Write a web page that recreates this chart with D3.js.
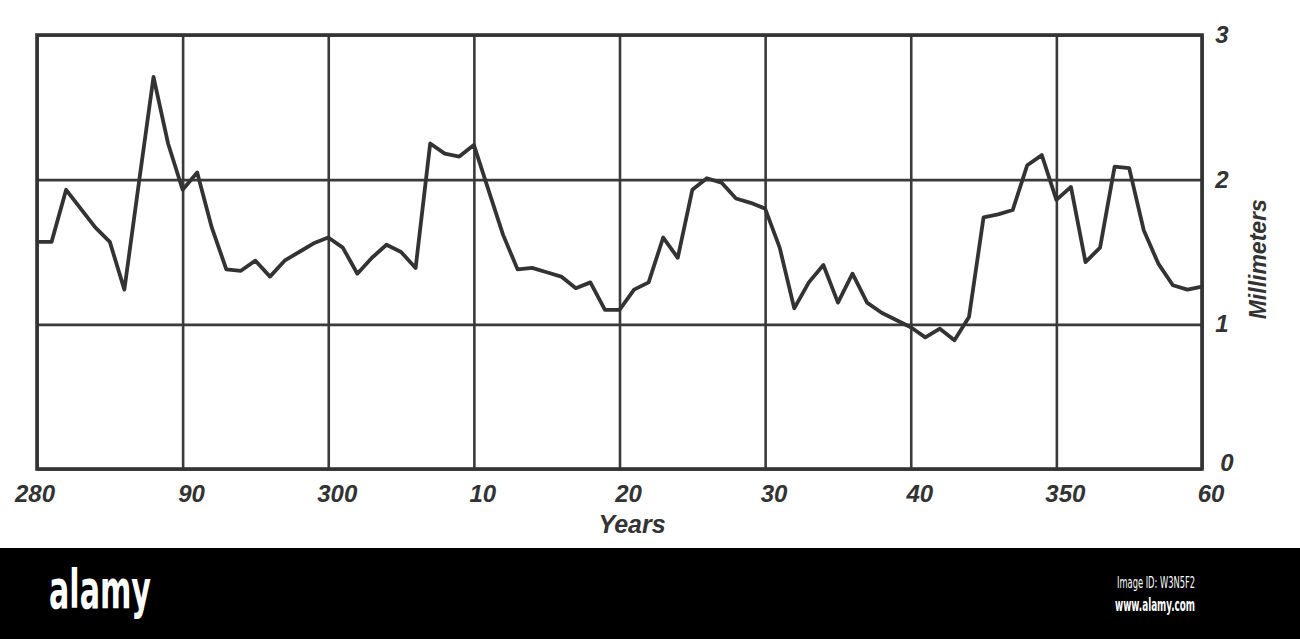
<!DOCTYPE html>
<html>
<head>
<meta charset="utf-8">
<script src="https://cdn.jsdelivr.net/npm/d3@7"></script>
<style>
  body { margin: 0; background: #fff; }
  .lbl { font-family: "Liberation Sans", Arial, sans-serif; font-weight: bold; font-style: italic; fill: #333; }
</style>
</head>
<body>
<div id="chart"></div>
<script>
// Data
const years = [280, 281, 282, 283, 284, 285, 286, 287, 288, 289,
    290, 291, 292, 293, 294, 295, 296, 297, 298, 299,
    300, 301, 302, 303, 304, 305, 306, 307, 308, 309,
    310, 311, 312, 313, 314, 315, 316, 317, 318, 319,
    320, 321, 322, 323, 324, 325, 326, 327, 328, 329,
    330, 331, 332, 333, 334, 335, 336, 337, 338, 339,
    340, 341, 342, 343, 344, 345, 346, 347, 348, 349,
    350, 351, 352, 353, 354, 355, 356, 357, 358, 359, 360];
const thickness = [1.57, 1.57, 1.93, 1.80, 1.67, 1.57, 1.24, 1.98, 2.71, 2.25,
    1.93, 2.05, 1.67, 1.38, 1.37, 1.44, 1.33, 1.44, 1.50, 1.56,
    1.60, 1.53, 1.35, 1.46, 1.55, 1.50, 1.39, 2.25, 2.18, 2.16,
    2.24, 1.93, 1.62, 1.38, 1.39, 1.36, 1.33, 1.25, 1.29, 1.10,
    1.10, 1.24, 1.29, 1.60, 1.46, 1.93, 2.01, 1.98, 1.87, 1.84,
    1.80, 1.53, 1.11, 1.29, 1.41, 1.15, 1.35, 1.15, 1.08, 1.03,
    0.98, 0.91, 0.97, 0.89, 1.05, 1.74, 1.76, 1.79, 2.10, 2.17,
    1.86, 1.95, 1.43, 1.53, 2.09, 2.08, 1.65, 1.42, 1.27, 1.24, 1.26];
const xTicks = [280, 290, 300, 310, 320, 330, 340, 350, 360];
const xTickLabels = ["280", "90", "300", "10", "20", "30", "40", "350", "60"];
const yTicks = [0, 1, 2, 3];

// Dimensions
const W = 1300, H = 639;
const margin = { top: 35, left: 37, right: 98, bottom: 170 };
const width = W - margin.left - margin.right;
const height = H - margin.top - margin.bottom;

const svg = d3.select("#chart").append("svg")
    .attr("width", W)
    .attr("height", H);

const g = svg.append("g")
    .attr("transform", `translate(${margin.left},${margin.top})`);

// Scales
const x = d3.scaleLinear().domain([280, 360]).range([0, width]);
const y = d3.scaleLinear().domain([0, 3]).range([height, 0]);

// Grid (vertical)
g.append("g")
    .attr("transform", `translate(0,${height})`)
    .call(d3.axisBottom(x).tickValues(xTicks).tickSize(-height).tickFormat(""))
    .call(s => s.select(".domain").remove())
    .call(s => s.selectAll("line").attr("stroke", "#3a3a3a").attr("stroke-width", 2.6));

// Grid (horizontal)
g.append("g")
    .call(d3.axisLeft(y).tickValues(yTicks).tickSize(-width).tickFormat(""))
    .call(s => s.select(".domain").remove())
    .call(s => s.selectAll("line").attr("stroke", "#3a3a3a").attr("stroke-width", 2.6));

// Frame
g.append("rect")
    .attr("x", 0).attr("y", 0)
    .attr("width", width).attr("height", height)
    .attr("fill", "none")
    .attr("stroke", "#333")
    .attr("stroke-width", 3.6);

// Line
const line = d3.line()
    .x((d, i) => x(years[i]))
    .y(d => y(d));

g.append("path")
    .datum(thickness)
    .attr("d", line)
    .attr("fill", "none")
    .attr("stroke", "#333")
    .attr("stroke-width", 3.8)
    .attr("stroke-linejoin", "round");

// X tick labels
g.selectAll(".xlbl")
    .data(xTicks)
    .enter().append("text")
    .attr("class", "lbl")
    .attr("x", (d, i) => x(d) + (i === 0 ? -2 : 9))
    .attr("y", height + 33)
    .attr("text-anchor", "middle")
    .style("font-size", "24px")
    .text((d, i) => xTickLabels[i]);

// Y tick labels (right side)
g.selectAll(".ylbl")
    .data(yTicks)
    .enter().append("text")
    .attr("class", "lbl")
    .attr("x", d => width + (d === 0 ? 25 : 20))
    .attr("y", d => y(d) + (d === 0 ? 2 : 8))
    .attr("text-anchor", "middle")
    .style("font-size", "24px")
    .text(d => d);

// Axis titles
g.append("text")
    .attr("class", "lbl")
    .attr("x", 595)
    .attr("y", height + 64)
    .attr("text-anchor", "middle")
    .style("font-size", "25px")
    .text("Years");

g.append("text")
    .attr("class", "lbl")
    .attr("transform", `translate(${width + 64},${y(1.45)}) rotate(-90)`)
    .attr("text-anchor", "middle")
    .style("font-size", "23px")
    .text("Millimeters");

// Bottom banner
svg.append("rect")
    .attr("x", 0).attr("y", 548)
    .attr("width", W).attr("height", H - 548)
    .attr("fill", "#000");

svg.append("text")
    .attr("x", 49).attr("y", 608)
    .attr("fill", "#fff")
    .style("font-family", "'DejaVu Sans Condensed', 'Liberation Sans Narrow', sans-serif")
    .style("font-weight", "bold")
    .style("font-size", "54px")
    .attr("textLength", 102)
    .attr("lengthAdjust", "spacingAndGlyphs")
    .text("alamy");

svg.append("text")
    .attr("x", 1195).attr("y", 588)
    .attr("text-anchor", "end")
    .attr("fill", "#fff")
    .style("font-family", "'DejaVu Sans Condensed', sans-serif")
    .style("font-size", "15px")
    .attr("textLength", 78)
    .attr("lengthAdjust", "spacingAndGlyphs")
    .text("Image ID: W3N5F2");

svg.append("text")
    .attr("x", 1195).attr("y", 611)
    .attr("text-anchor", "end")
    .attr("fill", "#fff")
    .style("font-family", "'DejaVu Sans Condensed', sans-serif")
    .style("font-size", "17px")
    .style("font-weight", "bold")
    .attr("textLength", 80)
    .attr("lengthAdjust", "spacingAndGlyphs")
    .text("www.alamy.com");
</script>
</body>
</html>
